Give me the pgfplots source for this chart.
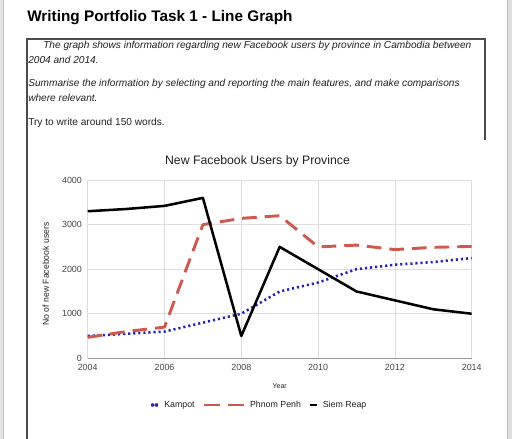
\documentclass[border=0pt]{standalone}
\usepackage{fontspec}
\setmainfont{Liberation Sans}
\usepackage{pgfplots}
\pgfplotsset{compat=1.18}
\definecolor{kampot}{HTML}{2323B5}
\definecolor{phnom}{HTML}{CD5A4E}
\definecolor{gridc}{HTML}{DDDDDD}
\definecolor{ticktext}{HTML}{444444}
\definecolor{bodytext}{HTML}{222222}
\begin{document}
\begin{tikzpicture}
\begin{scope}[x=0.75pt,y=-0.75pt]
\fill[white] (0,0) rectangle (512,439);
\fill[black!10] (0,0) rectangle (3,439);
\fill[black!12] (507,0) rectangle (512,439);
\draw[black!25, line width=0.5pt] (3.2,0) -- (3.2,439);
\draw[black!25, line width=0.5pt] (507,0) -- (507,439);
\draw[black!70, line width=0.8pt] (27,439) -- (27,39) -- (485,39) -- (485,140);
\node[anchor=base west, inner sep=0, font=\bfseries\fontsize{11.5}{14}\selectfont] at (27,21.7) {Writing Portfolio Task 1 - Line Graph};
\begin{scope}[every node/.style={anchor=base west, inner sep=0, text=bodytext, font=\itshape\fontsize{7.6}{9}\selectfont}]
\node at (43,49) {The graph shows information regarding new Facebook users by province in Cambodia between};
\node at (28,64) {2004 and 2014.};
\node at (28,87) {Summarise the information by selecting and reporting the main features, and make comparisons};
\node at (28,101.5) {where relevant.};
\node[font=\fontsize{7.6}{9}\selectfont] at (28,126) {Try to write around 150 words.};
\end{scope}
\node[anchor=base, inner sep=0, text=bodytext, font=\fontsize{9.2}{11}\selectfont] at (257.5,164) {New Facebook Users by Province};
\node[anchor=base, inner sep=0, text=bodytext, font=\fontsize{6.5}{7.5}\selectfont, rotate=90] at (49,274) {No of new Facebook users};
\node[anchor=base, inner sep=0, text=bodytext, font=\fontsize{5.3}{6}\selectfont] at (279.7,388.5) {Year};
\end{scope}
\begin{axis}[
  scale only axis, width=288pt, height=133.7pt,
  at={(65.78pt,-268.73pt)}, anchor=south west,
  xmin=2004, xmax=2014, ymin=0, ymax=4000,
  xtick={2004,2006,...,2014}, ytick={0,1000,...,4000},
  xmajorgrids, ymajorgrids, grid style={gridc, line width=0.6pt},
  axis x line*=bottom, axis y line*=left,
  axis line style={-},
  x axis line style={black!40, line width=0.75pt},
  y axis line style={gridc, line width=0.6pt},
  major tick length=0pt,
  tick label style={font=\fontsize{6.7}{7.5}\selectfont, text=ticktext},
  yticklabel style={xshift=-0.8pt},
  xticklabel style={yshift=-1.2pt},
  /pgf/number format/assume math mode=true,
  /pgf/number format/1000 sep={},
  legend columns=3,
  legend style={at={(0.163,-0.262)}, anchor=west, draw=none, fill=none, inner sep=0pt,
    font=\fontsize{6.6}{8}\selectfont, text=bodytext,
    nodes={inner sep=0pt},
    /tikz/every odd column/.style={column sep=3.4pt},
    /tikz/every even column/.style={column sep=6pt}},
]
\addplot[kampot, line width=1.9pt, dash pattern=on 1.6pt off 2.2pt, line join=round,
  legend image code/.code={
    \path (0pt,0pt) -- (5pt,0pt);
    \fill[kampot, solid] (0.6pt,0pt) circle (0.55pt);
    \fill[kampot, solid] (3.5pt,0pt) circle (0.55pt);}]
  coordinates {(2004,500) (2005,550) (2006,600) (2007,800) (2008,1000) (2009,1500) (2010,1700) (2011,2000) (2012,2100) (2013,2160) (2014,2250)};
\addlegendentry{Kampot}
\addplot[phnom, line width=2.2pt, dash pattern=on 11pt off 6pt, line join=round,
  legend image code/.code={
    \draw[phnom, solid, line width=2.2pt] (0pt,0pt) -- (12pt,0pt);
    \draw[phnom, solid, line width=2.2pt] (18pt,0pt) -- (30pt,0pt);}]
  coordinates {(2004,470) (2005,600) (2006,700) (2007,3000) (2008,3140) (2009,3200) (2010,2500) (2011,2540) (2012,2440) (2013,2490) (2014,2510)};
\addlegendentry{Phnom Penh}
\addplot[black, line width=1.9pt, line join=round,
  legend image code/.code={
    \draw[black, solid, line width=2pt] (0pt,0pt) -- (5pt,0pt);}]
  coordinates {(2004,3300) (2005,3350) (2006,3420) (2007,3600) (2008,500) (2009,2500) (2010,2000) (2011,1500) (2012,1300) (2013,1100) (2014,1000)};
\addlegendentry{Siem Reap}
\end{axis}
\begin{scope}[x=0.75pt,y=-0.75pt]
\pgfresetboundingbox
\useasboundingbox (0,0) rectangle (512,439);
\end{scope}
\end{tikzpicture}
\end{document}
